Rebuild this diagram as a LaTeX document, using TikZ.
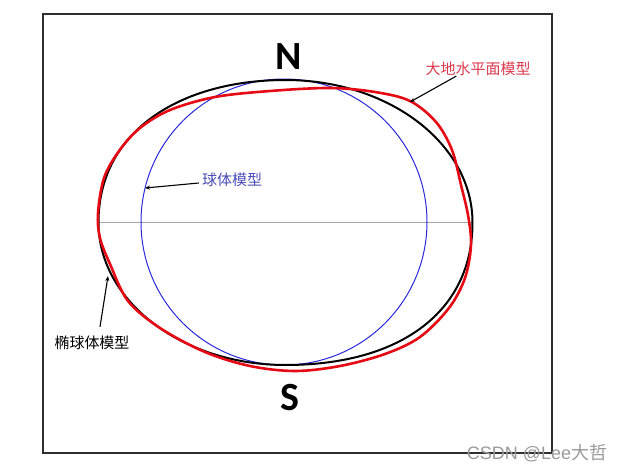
\documentclass[tikz,border=0pt]{standalone}
\usepackage{fontspec}
\usetikzlibrary{arrows.meta}
\newfontfamily\cjk{Noto Sans CJK SC}
\newfontfamily\polefont{Carlito}
\newfontfamily\markfont{Liberation Sans}
\definecolor{framegray}{rgb}{0.18,0.18,0.18}
\definecolor{geoidred}{rgb}{0.9,0.04,0.08}
\definecolor{labelred}{rgb}{0.86,0.22,0.3}
\definecolor{sphereblue}{rgb}{0.16,0.16,0.86}
\definecolor{labelblue}{rgb}{0.3,0.3,0.72}
\definecolor{axisgray}{rgb}{0.64,0.64,0.64}
\definecolor{markgray}{rgb}{0.6,0.6,0.6}

\begin{document}
\begin{tikzpicture}[
  x=1pt, y=-1pt,
  every node/.style={inner sep=0pt},
  pole/.style={font=\polefont\bfseries\fontsize{40}{40}\selectfont},
  tag/.style={font=\cjk\fontsize{15}{15}\selectfont},
  pointer/.style={draw=black, line width=1.1pt, -{Stealth[length=5pt,width=4pt]}},
]
\useasboundingbox (0,0) rectangle (625,472);

\draw[framegray, line width=1.3pt] (43,14) rectangle (552,453);

\draw[axisgray, line width=1.2pt] (100,222.5) -- (472,222.5);
\draw[sphereblue, line width=1pt] (284,222) circle[radius=143];
\draw[black, line width=2pt] (98.5,222.5)
  .. controls (98.5,129.9) and (182.2,80) .. (285.5,80)
  .. controls (388.8,80) and (472.5,143.8) .. (472.5,222.5)
  .. controls (472.5,310.9) and (401.4,365) .. (285.5,365)
  .. controls (182.2,365) and (98.5,301.2) .. cycle;
\draw[geoidred, line width=2.6pt] plot[smooth cycle, tension=0.55] coordinates {
  (98,213) (104,178) (119,151) (140,128) (170,110) (215,97) (270,91) (330,88)
  (375,92) (410,101) (436,122) (452,150) (461,185) (468,215) (471,245) (465,278)
  (449,308) (420,337) (385,354) (340,366) (295,371) (250,366) (205,352) (160,328)
  (128,301) (110,264) (100,238)};

\coordinate (geoidpt) at (410,102);
\coordinate (spherept) at (145,188);
\coordinate (ellipsoidpt) at (108,276);

\node[pole] (north) at (289,57) {N};
\node[pole] (south) at (290,398) {S};

\node[tag, text=labelred] (geoidtag) at (478,69) {大地水平面模型};
\node[tag, text=labelblue] (spheretag) at (232,180) {球体模型};
\node[tag, text=black] (ellipsoidtag) at (92,343) {椭球体模型};

\draw[pointer] ([xshift=31pt]geoidtag.south west) -- (geoidpt);
\draw[pointer] ([xshift=-3pt,yshift=-3pt]spheretag.west) -- (spherept);
\draw[pointer] ([xshift=8pt,yshift=9pt]ellipsoidtag.north) -- (ellipsoidpt);

\node[text=markgray, font=\fontsize{18}{18}\selectfont] (mark) at (537,453) {\markfont CSDN @Lee\cjk 大哲};
\end{tikzpicture}
\end{document}
